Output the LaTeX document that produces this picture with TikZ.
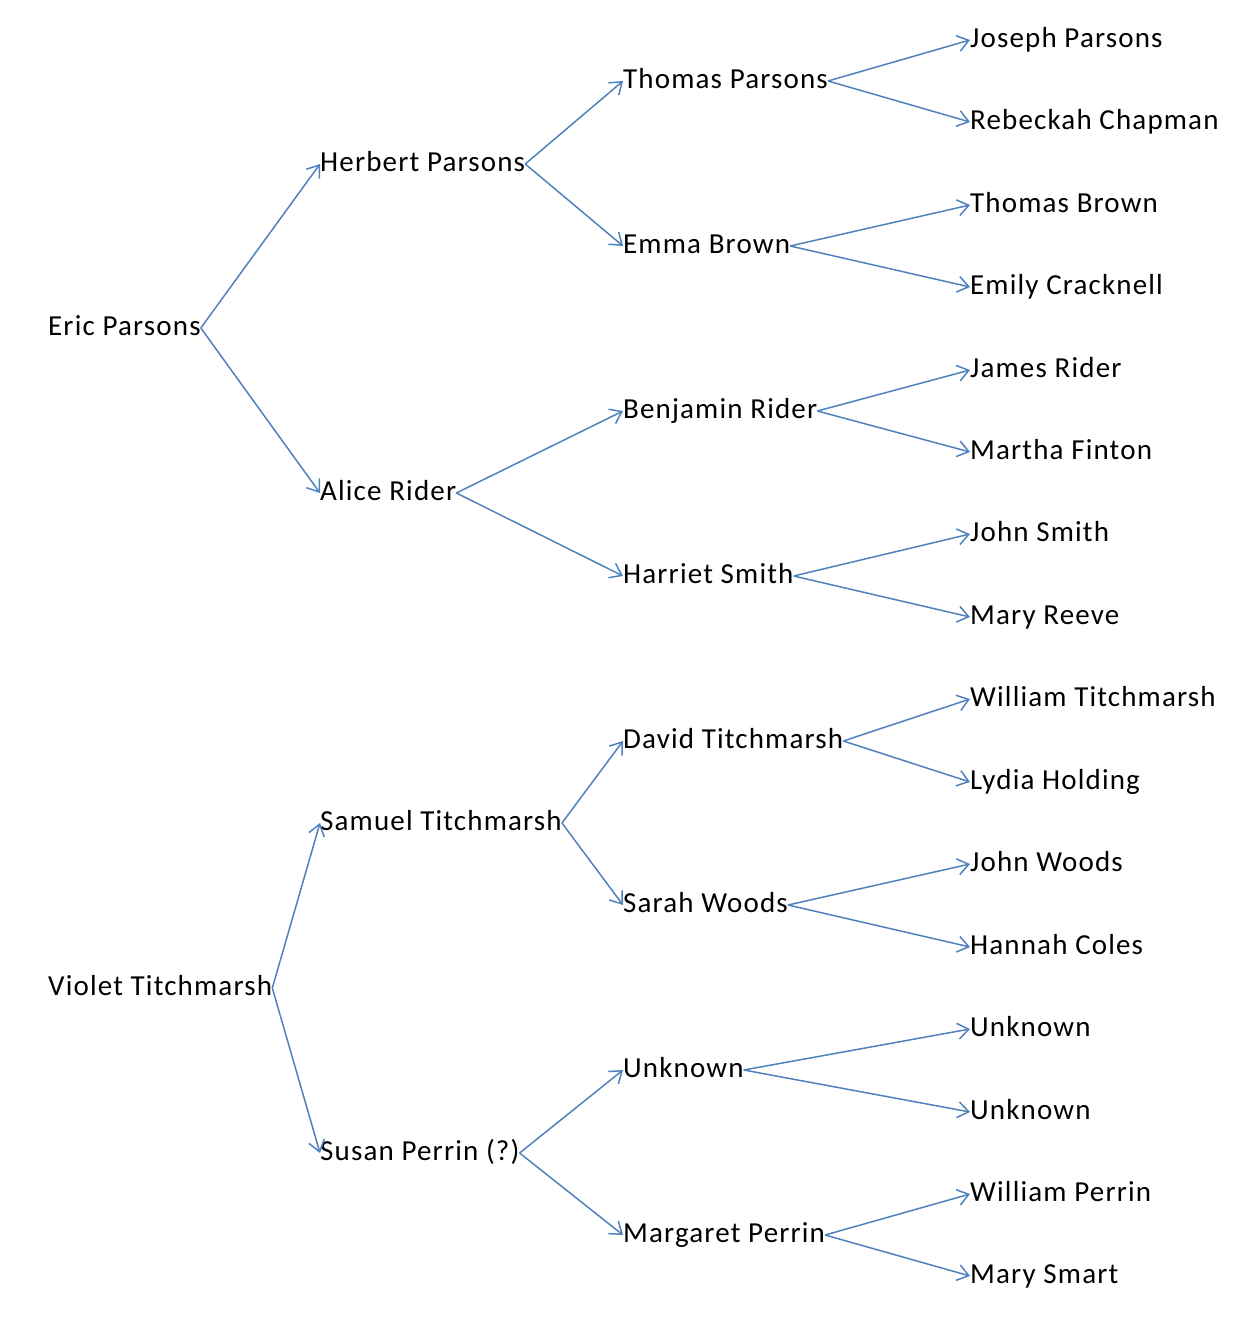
\documentclass[tikz,border=0pt]{standalone}
\usepackage{fontspec}
\setmainfont{Carlito}
\usetikzlibrary{arrows.meta}
\definecolor{lnk}{RGB}{79,129,189}
\begin{document}
\begin{tikzpicture}[x=1pt,y=-1pt,
  person/.style={anchor=west,inner sep=0pt,font=\fontsize{29}{33}\selectfont\addfontfeature{LetterSpace=4},text height=20pt,text depth=5pt},
  link/.style={draw=lnk,line width=1.5pt,-{Straight Barb[length=11pt,width=16pt,line width=1.5pt]}}]
\useasboundingbox (0,0) rectangle (1240,1343);
\node[person] (a) at (48,328) {Eric Parsons};
\node[person] (b1) at (320,164) {Herbert Parsons};
\node[person] (b2) at (320,493) {Alice Rider};
\node[person] (c1) at (623,81) {Thomas Parsons};
\node[person] (c2) at (623,246) {Emma Brown};
\node[person] (c3) at (623,411) {Benjamin Rider};
\node[person] (c4) at (623,576) {Harriet Smith};
\node[person] (d1) at (970,40) {Joseph Parsons};
\node[person] (d2) at (970,122) {Rebeckah Chapman};
\node[person] (d3) at (970,205) {Thomas Brown};
\node[person] (d4) at (970,287) {Emily Cracknell};
\node[person] (d5) at (970,370) {James Rider};
\node[person] (d6) at (970,452) {Martha Finton};
\node[person] (d7) at (970,534) {John Smith};
\node[person] (d8) at (970,617) {Mary Reeve};
\node[person] (e) at (48,988) {Violet Titchmarsh};
\node[person] (f1) at (320,823) {Samuel Titchmarsh};
\node[person] (f2) at (320,1153) {Susan Perrin (?)};
\node[person] (g1) at (623,741) {David Titchmarsh};
\node[person] (g2) at (623,905) {Sarah Woods};
\node[person] (g3) at (623,1070) {Unknown};
\node[person] (g4) at (623,1235) {Margaret Perrin};
\node[person] (h1) at (970,699) {William Titchmarsh};
\node[person] (h2) at (970,782) {Lydia Holding};
\node[person] (h3) at (970,864) {John Woods};
\node[person] (h4) at (970,947) {Hannah Coles};
\node[person] (h5) at (970,1029) {Unknown};
\node[person] (h6) at (970,1112) {Unknown};
\node[person] (h7) at (970,1194) {William Perrin};
\node[person] (h8) at (970,1276) {Mary Smart};
\foreach \s/\t in {a/b1,a/b2,b1/c1,b1/c2,b2/c3,b2/c4,c1/d1,c1/d2,c2/d3,c2/d4,c3/d5,c3/d6,c4/d7,c4/d8,
  e/f1,e/f2,f1/g1,f1/g2,f2/g3,f2/g4,g1/h1,g1/h2,g2/h3,g2/h4,g3/h5,g3/h6,g4/h7,g4/h8}
  \draw[link] (\s.east) -- (\t.west);
\end{tikzpicture}
\end{document}
